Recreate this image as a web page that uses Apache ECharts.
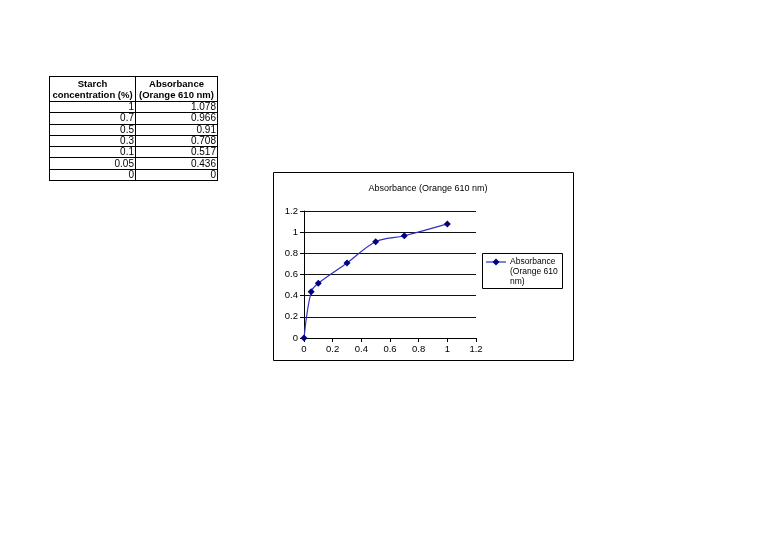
<!DOCTYPE html>
<html><head><meta charset="utf-8">
<script src="https://cdn.jsdelivr.net/npm/echarts@6/dist/echarts.min.js"></script>
<style>
html,body{margin:0;padding:0;background:#fff;}
#c{position:absolute;left:0;top:0;width:768px;height:543px;}
#t{position:absolute;left:49px;top:76px;border-collapse:collapse;table-layout:fixed;width:168px;font-family:"Liberation Sans",Arial,sans-serif;font-size:10px;color:#000;}
#t td,#t th{border:1px solid #000;padding:0 1px;line-height:10px;height:10.3px;white-space:nowrap;overflow:hidden;box-sizing:border-box;}
#t th{font-weight:bold;text-align:center;height:25px;line-height:11px;padding:1px 0 0 0;font-size:9.5px;vertical-align:top;}
#t td{text-align:right;height:11.3px;padding:0 1px 0 0;}
</style></head><body>
<div id="c"></div>
<table id="t"><colgroup><col style="width:86px"><col style="width:82px"></colgroup><tbody id="tb"></tbody></table>
<script>
const headers = ["Starch<br>concentration (%)", "Absorbance<br>(Orange 610 nm)"];
const concentration = [1, 0.7, 0.5, 0.3, 0.1, 0.05, 0];
const absorbance = [1.078, 0.966, 0.91, 0.708, 0.517, 0.436, 0];
const seriesName = "Absorbance (Orange 610 nm)";
const legendLines = "Absorbance\n(Orange 610\nnm)";

// table
const tb = document.getElementById('tb');
let html = '<tr><th>' + headers[0] + '</th><th>' + headers[1] + '</th></tr>';
for (let i = 0; i < concentration.length; i++) {
  html += '<tr><td>' + concentration[i] + '</td><td>' + absorbance[i] + '</td></tr>';
}
tb.innerHTML = html;

const chart = echarts.init(document.getElementById('c'), null, {renderer: 'canvas'});
const font = '"Liberation Sans", Arial, sans-serif';
const data = concentration.map((x, i) => [x, absorbance[i]]);
chart.setOption({
  animation: false,
  backgroundColor: '#fff',
  textStyle: {fontFamily: font},
  title: {
    text: seriesName, left: 423, top: 179, textAlign: 'center',
    textStyle: {fontSize: 9, fontWeight: 'normal', color: '#000', fontFamily: font}
  },
  grid: {left: 304, top: 211, right: 292, bottom: 205},
  xAxis: {
    type: 'value', min: 0, max: 1.2, interval: 0.2,
    axisLine: {lineStyle: {color: '#000', width: 1}},
    axisTick: {show: true, length: 4, inside: false, lineStyle: {color: '#000'}},
    axisLabel: {color: '#000', fontSize: 9.5, margin: 6, fontFamily: font,
      formatter: v => String(Math.round(v * 10) / 10)},
    splitLine: {show: false}
  },
  yAxis: {
    type: 'value', min: 0, max: 1.2, interval: 0.2,
    axisLine: {show: true, lineStyle: {color: '#000', width: 1}},
    axisTick: {show: true, length: 4, inside: false, lineStyle: {color: '#000'}},
    axisLabel: {color: '#000', fontSize: 9.5, margin: 6, fontFamily: font,
      formatter: v => String(Math.round(v * 10) / 10)},
    splitLine: {show: true, lineStyle: {color: '#111', width: 1}}
  },
  series: [{
    name: seriesName, type: 'line', data: data,
    smooth: 0.35,
    symbol: 'diamond', symbolSize: 7,
    itemStyle: {color: '#000080'},
    lineStyle: {color: '#3030c0', width: 1.2}
  }],
  graphic: [
    {type: 'rect', shape: {x: 273.5, y: 172.5, width: 300, height: 188}, style: {fill: 'none', stroke: '#000', lineWidth: 1}, z: -1},
    {type: 'rect', shape: {x: 482.5, y: 253.5, width: 80, height: 35}, style: {fill: '#fff', stroke: '#000', lineWidth: 1}},
    {type: 'line', shape: {x1: 486, y1: 262, x2: 506, y2: 262}, style: {stroke: '#3030c0', lineWidth: 1.2}},
    {type: 'polygon', shape: {points: [[496, 258.5], [499.5, 262], [496, 265.5], [492.5, 262]]}, style: {fill: '#000080'}},
    {type: 'text', x: 510, y: 257, style: {text: legendLines, fontSize: 8.5, lineHeight: 9.7, fill: '#000', fontFamily: font}}
  ]
});
</script>
</body></html>
